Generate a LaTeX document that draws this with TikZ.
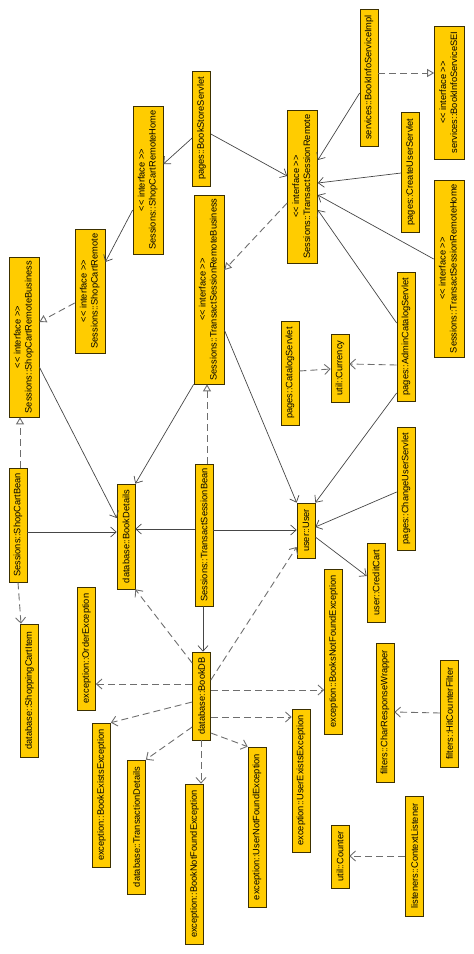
\documentclass[tikz,border=0pt]{standalone}
\usepackage{fontspec}
\setmainfont{Liberation Sans}
\usetikzlibrary{arrows.meta}

\definecolor{boxfill}{RGB}{255,204,0}
\definecolor{boxline}{RGB}{60,48,0}
\definecolor{solidline}{RGB}{70,70,70}
\definecolor{dashline}{RGB}{110,110,110}

\newcommand{\vtext}[1]{\rotatebox{90}{#1}}
\newcommand{\ifacetext}[1]{\rotatebox{90}{\begin{tabular}{@{}c@{}}<{}< interface >{}>\\#1\end{tabular}}}

\tikzset{
  cls/.style={draw=boxline, fill=boxfill, line width=0.7pt, inner sep=0pt,
    minimum width=18pt, font=\fontsize{9.3}{11}\selectfont},
  iface/.style={cls, minimum width=30pt},
  assoc/.style={draw=solidline, line width=0.7pt, -{Straight Barb[length=5.5pt,width=10pt]}},
  dep/.style={draw=dashline, line width=0.9pt, dash pattern=on 7pt off 4pt,
    -{Straight Barb[length=5.5pt,width=10pt]}},
  real/.style={draw=dashline, line width=0.9pt, dash pattern=on 7pt off 4pt,
    -{Triangle[open,length=7pt,width=8pt,fill=white]}}
}

\begin{document}
\begin{tikzpicture}[x=1pt, y=-1pt]
        \useasboundingbox (0,0) rectangle (474,954);

        % Session beans and interfaces
        \node[cls, minimum height=115pt] (bss) at (201.5,128.5) {\vtext{pages::BookStoreServlet}};
        \node[iface, minimum height=148pt] (scrh) at (148,180) {\ifacetext{Sessions::ShopCartRemoteHome}};
        \node[iface, minimum height=124pt] (scr) at (90,291) {\ifacetext{Sessions::ShopCartRemote}};
        \node[iface, minimum height=160pt] (scrb) at (24,337) {\ifacetext{Sessions::ShopCartRemoteBusiness}};
        \node[iface, minimum height=189pt] (tsrb) at (209,289.5) {\ifacetext{Sessions::TransactSessionRemoteBusiness}};
        \node[iface, minimum height=153pt] (tsr) at (302.5,186.5) {\ifacetext{Sessions::TransactSessionRemote}};
        \node[iface, minimum height=177pt] (tsrh) at (449,268.5) {\ifacetext{Sessions::TransactSessionRemoteHome}};
        \node[cls, minimum height=114pt] (scb) at (18,525) {\vtext{Sessions::ShopCartBean}};
        \node[cls, minimum height=142pt] (tsb) at (204,535) {\vtext{Sessions::TransactSessionBean}};

        % Services
        \node[cls, minimum height=137pt] (bisi) at (369,77.5) {\vtext{services::BookInfoServiceImpl}};
        \node[iface, minimum height=133pt] (bsei) at (449.5,92.5) {\ifacetext{services::BookInfoServiceSEI}};

        % Servlets
        \node[cls, minimum height=120pt] (cus) at (410.5,172) {\vtext{pages::CreateUserServlet}};
        \node[cls, minimum height=129pt] (acs) at (406,336.5) {\vtext{pages::AdminCatalogServlet}};
        \node[cls, minimum height=104pt] (cs) at (290,373) {\vtext{pages::CatalogServlet}};
        \node[cls, minimum height=123pt] (cius) at (406,488.5) {\vtext{pages::ChangeUserServlet}};

        % Util, user, database
        \node[cls, minimum height=68pt] (cur) at (340,368) {\vtext{util::Currency}};
        \node[cls, minimum height=55pt] (usr) at (306,530.5) {\vtext{user::User}};
        \node[cls, minimum height=79pt] (cc) at (376,582.5) {\vtext{user::CreditCart}};
        \node[cls, minimum height=105pt] (bd) at (126,536.5) {\vtext{database::BookDetails}};
        \node[cls, minimum height=133pt] (sci) at (29.5,690.5) {\vtext{database::ShoppingCartItem}};
        \node[cls, minimum height=88pt] (bdb) at (201.5,696) {\vtext{database::BookDB}};
        \node[cls, minimum height=134pt] (td) at (136.5,827) {\vtext{database::TransactionDetails}};

        % Exceptions
        \node[cls, minimum height=165pt] (bnfes) at (333.5,651.5) {\vtext{exception::BooksNotFoundException}};
        \node[cls, minimum height=123pt] (oe) at (86.5,648.5) {\vtext{exception::OrderException}};
        \node[cls, minimum height=144pt] (bee) at (101.5,795) {\vtext{exception::BookExistsException}};
        \node[cls, minimum height=160pt] (bnfe) at (194.5,864) {\vtext{exception::BookNotFoundException}};
        \node[cls, minimum height=160pt] (unfe) at (257,827) {\vtext{exception::UserNotFoundException}};
        \node[cls, minimum height=143pt] (uee) at (301,780.5) {\vtext{exception::UserExistsException}};

        % Filters and listeners
        \node[cls, minimum height=139pt] (crw) at (385,712.5) {\vtext{filters::CharResponseWrapper}};
        \node[cls, minimum height=107pt] (hcf) at (449.5,713.5) {\vtext{filters::HitCounterFilter}};
        \node[cls, minimum height=63pt] (cnt) at (340,856.5) {\vtext{util::Counter}};
        \node[cls, minimum height=120pt] (cl) at (414.5,856) {\vtext{listeners::ContextListener}};

        % Associations
        \draw[assoc] (bss.west |- 0,138) -- (scrh.east |- 0,164);
        \draw[assoc] (bss.east |- 0,134) -- (tsr.west |- 0,176);
        \draw[assoc] (scrh.west |- 0,210) -- (scr.east |- 0,262);
        \draw[assoc] (scrb.east |- 0,367) -- (bd.west |- 0,518);
        \draw[assoc] (tsrb.south west) -- (bd.north east);
        \draw[assoc] (tsrb.east |- 0,330) -- (usr.north west);
        \draw[assoc] (scb.east |- 0,532) -- (bd.west |- 0,532);
        \draw[assoc] (tsb.west |- 0,529) -- (bd.east |- 0,529);
        \draw[assoc] (tsb.east |- 0,530) -- (usr.west |- 0,530);
        \draw[assoc] (tsb.south -| 203,0) -- (bdb.north -| 203,0);
        \draw[assoc] (acs.west |- 0,393) -- (usr.north east);
        \draw[assoc] (acs.west |- 0,323) -- (tsr.east |- 0,210);
        \draw[assoc] (cius.west |- 0,492) -- (usr.east |- 0,527);
        \draw[assoc] (usr.east |- 0,537) -- (cc.west |- 0,576);
        \draw[assoc] (bisi.west |- 0,93) -- (tsr.east |- 0,160);
        \draw[assoc] (cus.west |- 0,173) -- (tsr.east |- 0,183);
        \draw[assoc] (tsrh.west |- 0,259) -- (tsr.east |- 0,195);

        % Realizations
        \draw[real] (scr.west |- 0,303) -- (scrb.east |- 0,322);
        \draw[real] (tsr.west |- 0,203) -- (tsrb.east |- 0,270);
        \draw[real] (scb.north -| 20,0) -- (scrb.south -| 20,0);
        \draw[real] (tsb.north -| 207,0) -- (tsrb.south -| 207,0);
        \draw[real] (bisi.east |- 0,73) -- (bsei.west |- 0,73);

        % Dependencies
        \draw[dep] (scb.south -| 18,0) -- (sci.north -| 21,0);
        \draw[dep] (bdb.west |- 0,663) -- (bd.south east);
        \draw[dep] (bdb.east |- 0,680) -- (usr.west |- 0,547);
        \draw[dep] (bdb.west |- 0,684) -- (oe.east |- 0,684);
        \draw[dep] (bdb.west |- 0,702) -- (bee.north east);
        \draw[dep] (bdb.west |- 0,727) -- (td.north east);
        \draw[dep] (bdb.south -| 201,0) -- (bnfe.north -| 201,0);
        \draw[dep] (bdb.east |- 0,733) -- (unfe.north west);
        \draw[dep] (bdb.east |- 0,717) -- (uee.west |- 0,717);
        \draw[dep] (bdb.east |- 0,690) -- (bnfes.west |- 0,690);
        \draw[dep] (hcf.west |- 0,713) -- (crw.east |- 0,712);
        \draw[dep] (cl.west |- 0,856) -- (cnt.east |- 0,856);
        \draw[dep] (cs.east |- 0,371) -- (cur.west |- 0,369);
        \draw[dep] (acs.west |- 0,365) -- (cur.east |- 0,364);
\end{tikzpicture}
\end{document}
